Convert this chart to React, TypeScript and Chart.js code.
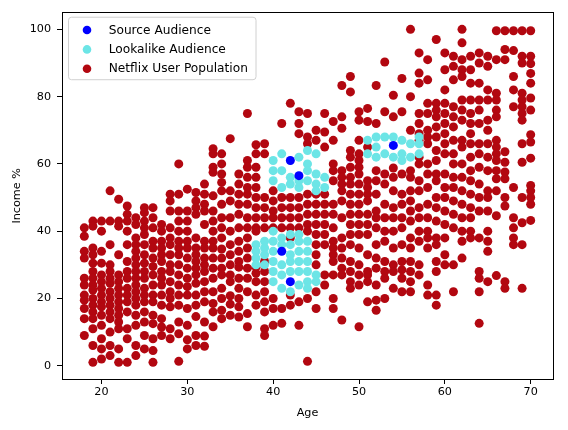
import React, { useEffect, useRef } from "react";
import { Chart, registerables } from "chart.js";

Chart.register(...registerables);

// ---------- data ----------
const seriesLabels = ["Source Audience", "Lookalike Audience", "Netflix User Population"];
const seriesColors = ["#0000ff", "#6ce5e6", "#b20710"];

const xTicks = [20, 30, 40, 50, 60, 70];
const yTicks = [0, 20, 40, 60, 80, 100];

const sourceAges = [42, 43, 41, 42, 54];
const sourceIncomes = [61, 56.5, 34, 25, 65.5];

const lookalikeAges = [
  40, 40, 40, 41, 41, 41, 42, 42, 43, 43, 43, 44, 44, 44, 44, 45, 45, 45, 45, 46, 46,
  38, 38, 38, 38, 39, 39, 39, 39, 40, 40, 40, 40, 40, 40, 41, 41, 41, 41, 41,
  42, 42, 42, 42, 42, 42, 43, 43, 43, 43, 43, 43, 44, 44, 44, 44, 44, 44, 45, 45,
  51, 51, 52, 52, 52, 53, 53, 54, 54, 55, 55, 55, 56, 56, 57, 57, 57,
];
const lookalikeIncomes = [
  61, 58, 55, 63, 58, 53, 56, 54, 62, 55, 53, 64, 60, 58, 55, 63, 57, 54, 52, 56, 53,
  36, 34, 32, 30, 37, 35, 33, 30, 40, 37, 34, 31, 28, 25, 38, 36, 30, 27, 23,
  39, 36, 33, 31, 28, 22, 39, 37, 34, 31, 28, 24, 37, 34, 31, 28, 25, 23, 27, 25,
  67, 63, 68, 65, 62, 68, 63, 68, 62, 67, 63, 61, 66, 62, 68, 66, 63,
];

const popAges = [
  18, 19, 20, 21, 22, 23, 24, 25, 26, 27, 28, 29, 30, 31, 32, 33, 34, 35, 36, 37, 38,
  39, 40, 41, 42, 43, 44, 45, 46, 47, 48, 49, 50, 51, 52, 53, 54, 55, 56, 57, 58, 59,
  60, 61, 62, 63, 64, 65, 66, 67, 68, 69, 70,
];
const popIncomes: number[][] = [
  [41, 38.5, 34, 32, 26, 24, 21, 19.5, 17, 14, 9],
  [43, 41.5, 35, 33, 30.5, 28, 26, 24, 22.5, 20, 18, 16, 14, 11, 6, 1],
  [43, 40, 34, 30.5, 27, 25, 23, 21, 19, 17.5, 15, 12, 8, 5, 2],
  [52, 43, 36, 30, 28, 26, 24.5, 22, 20, 18, 16, 14, 10, 6, 3],
  [49.5, 43, 41.5, 33, 27, 25, 23, 21, 19, 17, 15, 13, 11, 5, 1],
  [47.5, 45, 43, 40, 36, 31, 28, 26, 23, 21, 19, 16, 11, 8, 1],
  [44, 42, 38, 36, 34, 32, 30, 28, 26, 24, 22, 20, 18, 15, 12, 6, 3],
  [47, 45.5, 43, 41, 39, 36, 33, 30.5, 28, 26, 23, 21, 19, 16, 13, 9, 5],
  [47, 44, 41, 37, 35, 32, 29.5, 27, 24, 21, 19, 15, 12.5, 8, 4.5, 1],
  [42, 40, 37, 35, 33, 31, 28, 26, 24, 21, 18, 14, 11.5, 9],
  [51, 49, 46, 41, 38, 36, 33, 30, 28, 25, 22, 20, 17.5, 11, 8],
  [60, 51, 46, 43, 40, 37, 35, 33, 30, 27, 24, 21, 18, 13, 9.5, 1.3],
  [52.5, 46, 43, 40, 37, 35, 32, 29, 26, 23.5, 21, 17, 12, 7.7, 5],
  [51.5, 49, 47, 45, 38, 35, 33, 31, 29, 27, 24.5, 21, 18, 14.6, 9, 6],
  [54, 51, 48, 46, 42, 37, 35, 32, 30, 28, 25, 22, 19, 13, 8.8, 5.8],
  [64.5, 63, 59, 57.5, 50.5, 46, 43, 40, 37, 35, 32, 29, 26, 22, 18.5, 16, 11.6],
  [63, 60, 57, 54.5, 52, 48, 44, 41, 38, 34.7, 32, 29, 27, 23, 20, 16.5, 14],
  [67.5, 52, 49, 44, 40, 36, 33, 30, 27, 25, 20.8, 18.3, 15],
  [57, 54, 51, 48, 45, 41, 37, 34, 31, 29.3, 26, 23, 20, 17.5, 14.5],
  [75, 61, 59, 56, 53, 51, 48, 44, 41, 38, 35, 32, 29, 26, 22, 15.5, 11.6],
  [65.7, 63, 59, 56, 53, 50, 47, 44, 41, 40, 29.3, 27.5, 25, 21, 18],
  [66, 63, 50, 47, 44, 41, 31, 28, 25, 22, 19, 16, 11, 9],
  [52, 49, 46, 44, 41, 20, 17, 12],
  [72, 50, 47, 44, 41, 17, 12.6],
  [78, 50, 47, 44, 41, 38, 21, 18],
  [75.5, 72, 69, 50, 47, 44, 41, 19, 12],
  [75, 68, 66, 51, 48, 45, 42, 40, 20, 1.3],
  [70, 67, 51, 48, 45, 42, 39, 36, 33, 30, 22, 17],
  [75, 69.5, 65, 51, 48, 45, 42, 39, 36, 27, 24],
  [72.6, 67, 60, 58, 55, 48, 45, 41, 37, 35, 33, 31, 27, 20, 17],
  [83.3, 74, 70.6, 58, 56, 54, 52, 49, 44, 38, 35, 32, 29, 27, 13.6],
  [86, 81.4, 64, 62, 59, 56, 54, 51, 48, 45, 42, 39, 36, 31, 28, 25, 23],
  [75.5, 73, 67, 63, 61, 59, 57, 54, 51, 48, 45, 42, 39, 35, 30, 27, 24, 11.6],
  [76.5, 72.6, 65, 55, 53, 51, 49, 45, 42, 39, 33, 28, 27, 25, 19],
  [83.3, 72, 58, 55, 51, 46, 44, 41, 36, 32, 29, 24, 19.5, 16.5],
  [90.3, 75.5, 57, 54, 48, 44, 40, 37, 31, 28, 26, 20],
  [80.4, 74, 58.8, 56, 52, 47, 44, 40, 35, 30, 28, 23],
  [85.4, 75.5, 57, 51, 48, 44, 41, 36, 31, 28.5, 26, 22],
  [100, 80, 70, 58, 56, 52, 49, 46, 43, 38, 35, 31, 28, 25, 22],
  [93, 87, 84, 75, 72, 69, 67, 62, 60, 55, 52, 47, 44, 40, 37, 30, 27],
  [91, 85, 78, 75, 70, 68, 66, 60, 57, 53, 48, 44, 40, 38, 35, 24, 21],
  [97, 78, 76, 74, 71, 68, 64, 61, 57, 55, 50, 47, 43, 38, 36, 31, 28, 21, 18],
  [93, 88, 82, 78, 75, 72, 69, 66, 63, 57, 53, 50, 46, 42, 38, 33, 30],
  [92, 89, 85, 77, 74, 71, 67, 63, 60, 56, 53, 49, 45, 41, 30, 22],
  [100, 96, 91, 88, 86, 79, 76, 73, 67, 65, 60, 56, 52, 48, 44, 40, 37, 32],
  [92, 88, 84, 79, 75, 72, 69, 66, 62, 58, 55, 51, 47, 44, 40, 38],
  [93, 90, 84, 79, 76, 72, 66, 63, 59, 54, 50, 46, 38, 28, 26, 22, 12.6],
  [92, 89, 82, 79, 73, 70, 66, 62, 58, 52, 50, 46, 40, 37, 34, 25],
  [99.6, 91, 81, 79, 76, 74, 67, 65, 63, 61, 58, 55.6, 52, 44.6, 26.8],
  [99.6, 94, 91, 63.6, 60.5, 57.6, 55.6, 50, 47.5, 25, 23],
  [99.6, 93.7, 86, 82, 77, 53, 44, 41, 38, 36],
  [99.6, 92, 90, 81, 79, 77, 75, 73, 66, 60.5, 50, 42.5, 36, 23],
  [99.6, 92, 89.8, 86.9, 84, 79.6, 76, 68.7, 66.5, 61.7, 53.6, 52, 50, 48, 43.2],
];

// ---------- chart ----------
const FONT = "'DejaVu Sans', 'Liberation Sans', sans-serif";
const X_MIN = 15.4;
const X_MAX = 72.6;
const Y_MIN = -3.95;
const Y_MAX = 104.95;

const legendPlugin = {
  id: "boxedLegend",
  afterDraw(chart: any) {
    const { ctx, chartArea } = chart;
    ctx.save();
    const bx = chartArea.left + 6.5;
    const by = chartArea.top + 4.5;
    const bw = 187.5;
    const bh = 62.5;
    const r = 3;
    ctx.beginPath();
    ctx.moveTo(bx + r, by);
    ctx.lineTo(bx + bw - r, by);
    ctx.arcTo(bx + bw, by, bx + bw, by + r, r);
    ctx.lineTo(bx + bw, by + bh - r);
    ctx.arcTo(bx + bw, by + bh, bx + bw - r, by + bh, r);
    ctx.lineTo(bx + r, by + bh);
    ctx.arcTo(bx, by + bh, bx, by + bh - r, r);
    ctx.lineTo(bx, by + r);
    ctx.arcTo(bx, by, bx + r, by, r);
    ctx.closePath();
    ctx.fillStyle = "rgba(255,255,255,0.8)";
    ctx.fill();
    ctx.strokeStyle = "#d0d0d0";
    ctx.lineWidth = 1;
    ctx.stroke();

    ctx.font = `12.2px ${FONT}`;
    ctx.textBaseline = "middle";
    ctx.textAlign = "left";
    chart.data.datasets.forEach((ds: any, i: number) => {
      const cy = chartArea.top + 17.3 + i * 19.4;
      ctx.beginPath();
      ctx.arc(chartArea.left + 25, cy, 4.3, 0, Math.PI * 2);
      ctx.fillStyle = ds.backgroundColor;
      ctx.fill();
      ctx.fillStyle = "#000";
      ctx.fillText(ds.label, chartArea.left + 46.7, cy + 0.5);
    });
    ctx.restore();
  },
};

export default function App() {
  const canvasRef = useRef<HTMLCanvasElement | null>(null);

  useEffect(() => {
    const canvas = canvasRef.current;
    if (!canvas) return;

    const sourceData = sourceAges.map((x, i) => ({ x, y: sourceIncomes[i] }));
    const lookalikeData = lookalikeAges.map((x, i) => ({ x, y: lookalikeIncomes[i] }));
    const popData = popAges.flatMap((a, i) => popIncomes[i].map((v) => ({ x: a, y: v })));

    const tickFont = { family: FONT, size: 11.2 };

    const chart = new Chart(canvas, {
      type: "scatter",
      data: {
        datasets: [
          { label: seriesLabels[0], data: sourceData, backgroundColor: seriesColors[0], borderWidth: 0, pointRadius: 4.5 },
          { label: seriesLabels[1], data: lookalikeData, backgroundColor: seriesColors[1], borderWidth: 0, pointRadius: 4.5 },
          { label: seriesLabels[2], data: popData, backgroundColor: seriesColors[2], borderWidth: 0, pointRadius: 4.5 },
        ],
      },
      options: {
        animation: false,
        responsive: false,
        maintainAspectRatio: false,
        devicePixelRatio: 1,
        events: [],
        layout: { padding: { left: 0, right: 15, top: 10, bottom: 0 } },
        plugins: { legend: { display: false }, tooltip: { enabled: false } },
        scales: {
          x: {
            type: "linear",
            position: "bottom",
            min: X_MIN,
            max: X_MAX,
            afterFit: (s: any) => {
              s.height = 51;
            },
            afterBuildTicks: (s: any) => {
              s.ticks = xTicks.map((v) => ({ value: v }));
            },
            ticks: { color: "#000", font: tickFont, padding: 1, maxRotation: 0, autoSkip: false },
            grid: { drawOnChartArea: false, drawTicks: true, tickLength: 5, color: "#000", lineWidth: 1 },
            border: { display: true, color: "#000", width: 1 },
            title: { display: true, text: "Age", color: "#000", font: tickFont, padding: { top: 0, bottom: 10 } },
          },
          xTop: {
            type: "linear",
            position: "top",
            min: X_MIN,
            max: X_MAX,
            afterFit: (s: any) => {
              s.height = 0;
            },
            ticks: { display: false },
            grid: { drawOnChartArea: false, drawTicks: false },
            border: { display: true, color: "#000", width: 1 },
          },
          y: {
            type: "linear",
            position: "left",
            min: Y_MIN,
            max: Y_MAX,
            afterFit: (s: any) => {
              s.width = 62;
            },
            afterBuildTicks: (s: any) => {
              s.ticks = yTicks.map((v) => ({ value: v }));
            },
            ticks: { color: "#000", font: tickFont, padding: 6, autoSkip: false },
            grid: { drawOnChartArea: false, drawTicks: true, tickLength: 5, color: "#000", lineWidth: 1 },
            border: { display: true, color: "#000", width: 1 },
            title: { display: true, text: "Income %", color: "#000", font: tickFont, padding: { top: 10, bottom: 0 } },
          },
          yRight: {
            type: "linear",
            position: "right",
            min: Y_MIN,
            max: Y_MAX,
            afterFit: (s: any) => {
              s.width = 0;
            },
            ticks: { display: false },
            grid: { drawOnChartArea: false, drawTicks: false },
            border: { display: true, color: "#000", width: 1 },
          },
        },
      },
      plugins: [legendPlugin],
    } as any);

    return () => chart.destroy();
  }, []);

  return (
    <div style={{ position: "absolute", left: 0, top: 0, width: 568, height: 430, background: "#fff" }}>
      <canvas ref={canvasRef} width={568} height={430} style={{ display: "block", width: 568, height: 430 }} />
    </div>
  );
}
